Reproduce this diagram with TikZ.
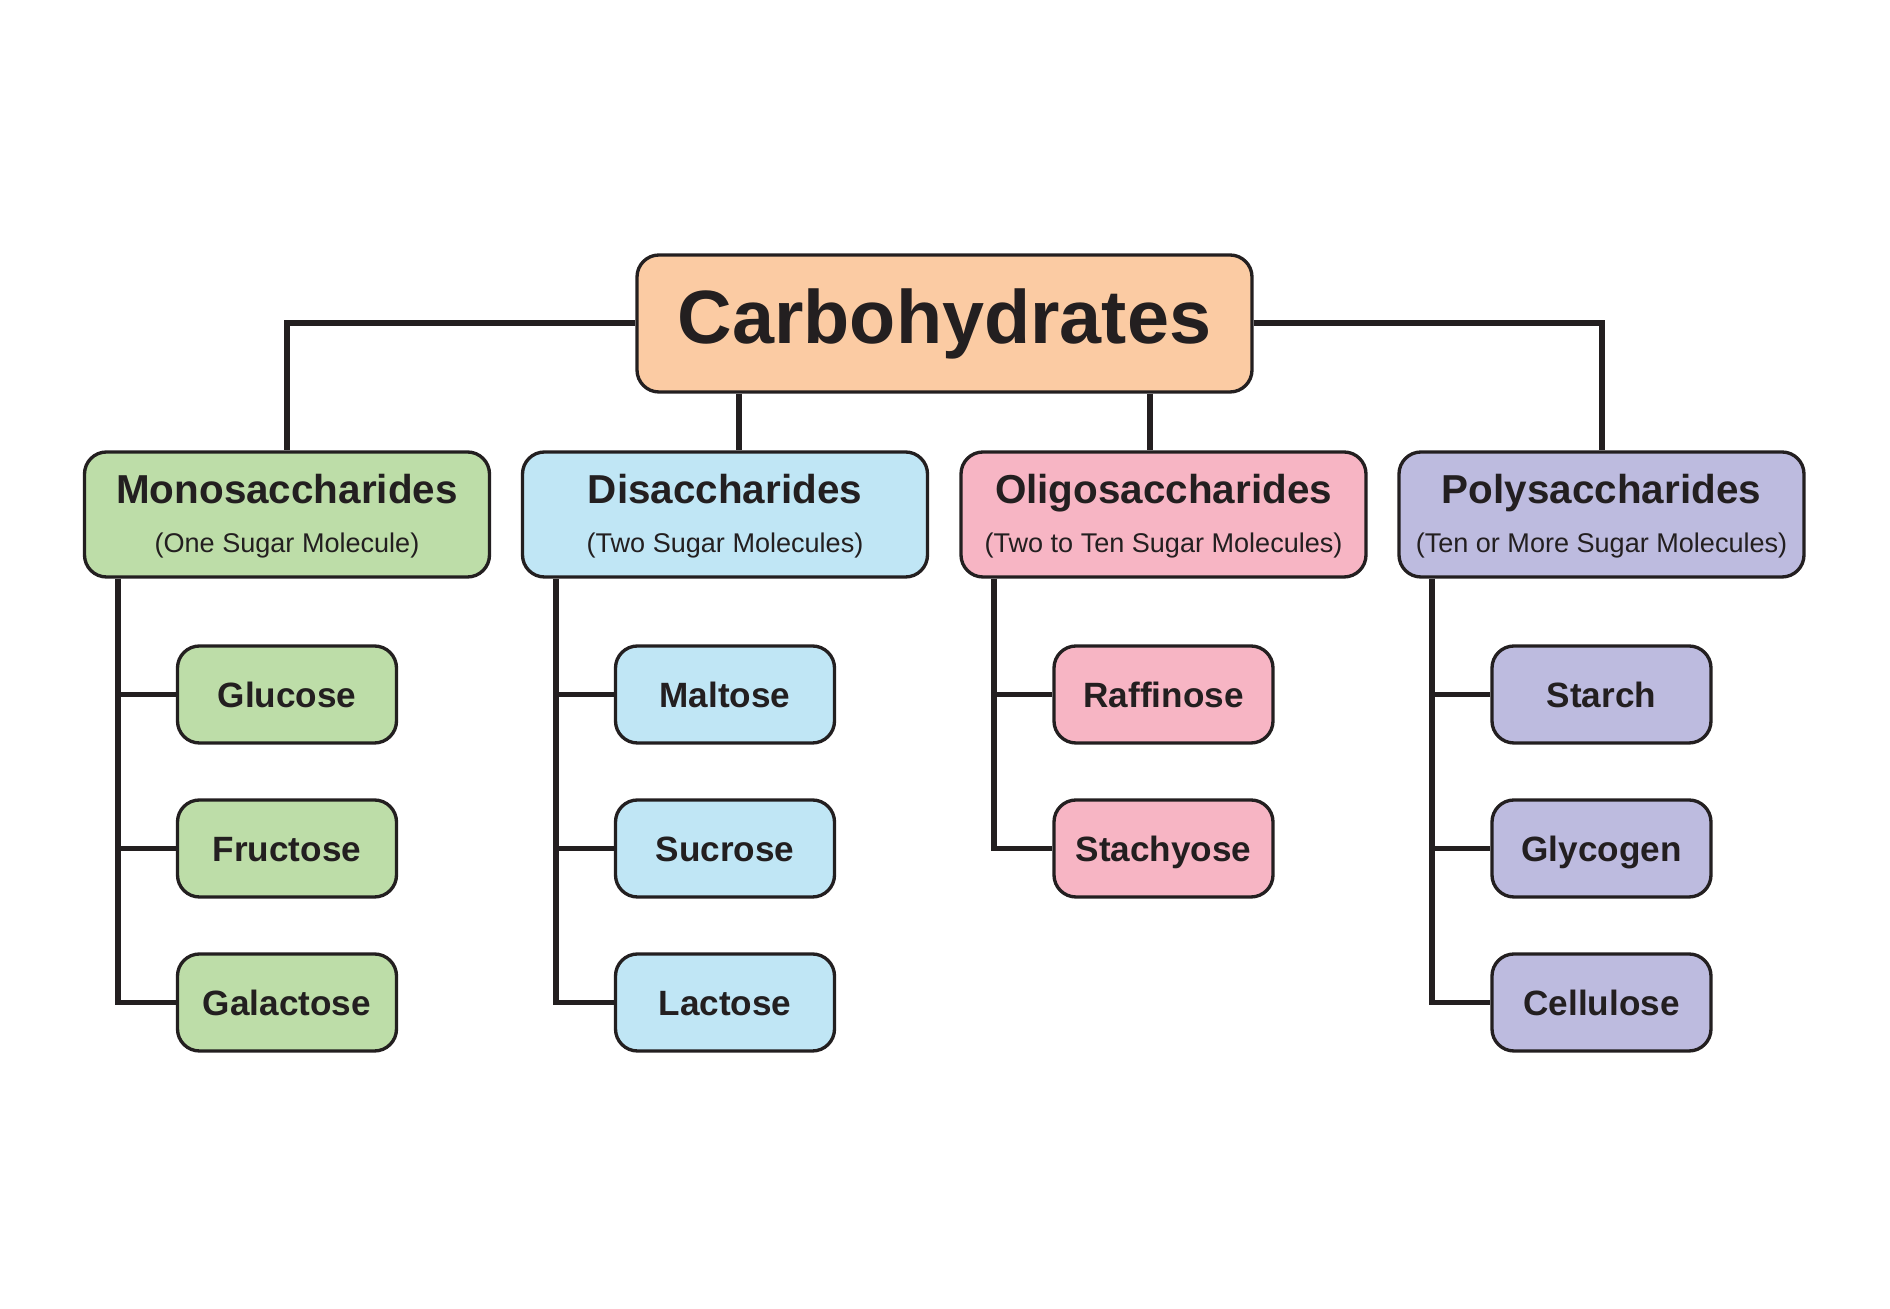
\documentclass[tikz,border=0pt]{standalone}
\usepackage{fontspec}
\setmainfont{Liberation Sans}
\definecolor{ink}{HTML}{231F20}
\definecolor{colcarb}{HTML}{FBCBA3}
\definecolor{colmono}{HTML}{BDDDA8}
\definecolor{coldi}{HTML}{C0E6F5}
\definecolor{cololigo}{HTML}{F7B5C4}
\definecolor{colpoly}{HTML}{BDBBDF}
\begin{document}
\begin{tikzpicture}[line join=round,
	box/.style={draw=ink,text=ink,line width=0.95pt,rounded corners=0.22cm},
	cat/.style={box,minimum width=4.05cm,minimum height=1.25cm},
	item/.style={box,minimum width=2.19cm,minimum height=0.97cm,text height=0.72em,text depth=0pt,font=\fontsize{10}{12}\selectfont\bfseries},
	ttl/.style={anchor=base,text=ink,font=\fontsize{11.5}{14}\selectfont\bfseries},
	sub/.style={anchor=base,text=ink,font=\fontsize{7.7}{9}\selectfont},
	link/.style={draw=ink,line width=1.7pt,line join=miter}]
	\useasboundingbox (0,0) rectangle (18.9,-13.09);
	\node[box,fill=colcarb,minimum width=6.15cm,minimum height=1.37cm,font=\fontsize{21.5}{26}\selectfont\bfseries] (carb) at (9.445,-3.235) {Carbohydrates};
	\foreach \nm/\x/\ttl/\sub in {mono/2.87/Monosaccharides/{(One Sugar Molecule)},di/7.25/Disaccharides/{(Two Sugar Molecules)},oligo/11.635/Oligosaccharides/{(Two to Ten Sugar Molecules)},poly/16.015/Polysaccharides/{(Ten or More Sugar Molecules)}}
	{
		\node[cat,fill=col\nm] (\nm) at (\x,-5.145) {};
		\node[ttl] (\nm-t) at ([yshift=0.105cm]\nm.center) {\ttl};
		\node[sub] (\nm-s) at ([yshift=-0.385cm]\nm.center) {\sub};
	}
	\foreach \nm/\i/\y/\lbl in {mono/1/-6.945/Glucose,mono/2/-8.485/Fructose,mono/3/-10.025/Galactose,
		di/1/-6.945/Maltose,di/2/-8.485/Sucrose,di/3/-10.025/Lactose,
		oligo/1/-6.945/Raffinose,oligo/2/-8.485/Stachyose,
		poly/1/-6.945/Starch,poly/2/-8.485/Glycogen,poly/3/-10.025/Cellulose}
	\node[item,fill=col\nm] (\nm\i) at (\nm |- 0,\y) {\lbl};
	\path
	([xshift=1.04cm]carb.south west) coordinate (cd)
	([xshift=-1.04cm]carb.south east) coordinate (co)
	;
	\draw[link] (carb.west) -| (mono.north) (carb.east) -| (poly.north)
	(cd) -- (cd |- di.north) (co) -- (co |- oligo.north)
	;
	\foreach \nm/\n in {mono/3,di/3,oligo/2,poly/3}
	{
		\coordinate (\nm-sp) at ([xshift=0.35cm]\nm.south west);
		\draw[link] (\nm-sp) |- (\nm\n.west);
		\foreach \i in {1,...,\n} \draw[link] (\nm-sp |- \nm\i.west) -- (\nm\i.west);
	}
\end{tikzpicture}
\end{document}
